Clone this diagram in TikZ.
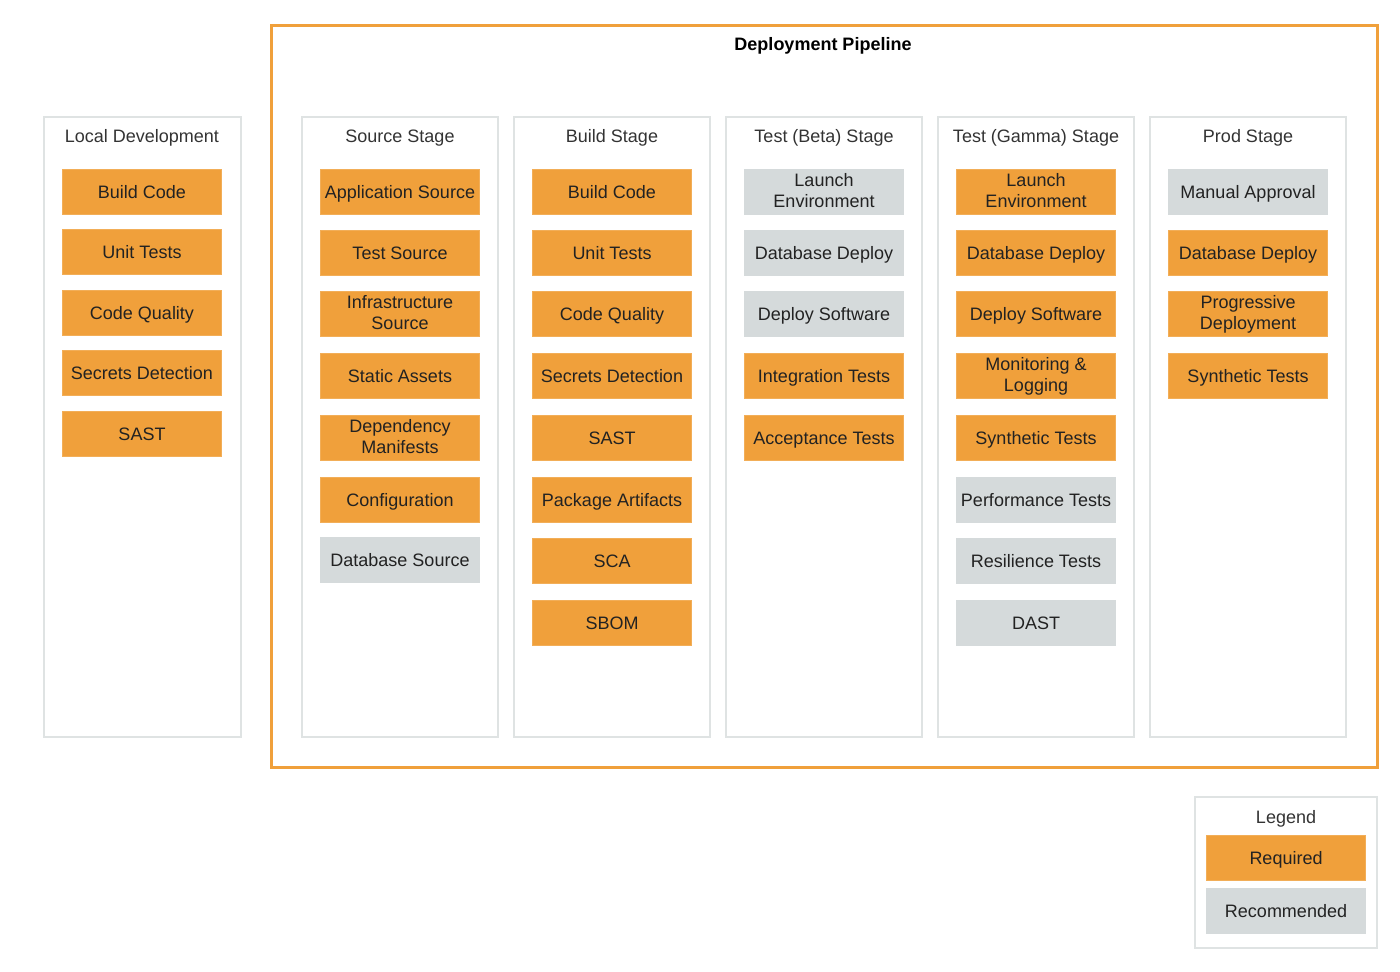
\documentclass[tikz,border=0pt]{standalone}
\usepackage{fontspec}
\setmainfont{Liberation Sans}
\usepackage{xcolor}
\usepackage{tikz}
\definecolor{reqorange}{HTML}{F0A03B}
\definecolor{recgray}{HTML}{D5DADB}
\definecolor{colline}{HTML}{DFE3E3}
\definecolor{boxtext}{HTML}{222222}
\newcommand{\boxstrut}{\rule[-2pt]{0pt}{10.4pt}}

\begin{document}
\begin{tikzpicture}[x=0.5pt, y=-0.5pt,
		req/.style={fill=reqorange, draw=reqorange!85!white, line width=0.4pt, minimum width=79.5pt, minimum height=22.5pt, inner sep=0pt, align=center, text=boxtext, font=\fontsize{9}{10.5}\selectfont, execute at begin node=\boxstrut, execute at end node=\boxstrut},
		rec/.style={req, fill=recgray, draw=recgray},
		stagebox/.style={draw=colline, line width=0.8pt},
		stagetitle/.style={anchor=base, text=black!80, font=\fontsize{9}{10.5}\selectfont}]
				\useasboundingbox (0,0) rectangle (1400,971);
				
				% pipeline frame
				\draw [reqorange, line width=1.5pt] (271,25) rectangle (1377,767);
				\node [anchor=base, font=\bfseries\fontsize{9}{10.5}\selectfont] (pipe) at (823,50) {Deployment Pipeline};
				
				% stage columns
				\draw [stagebox] (44,117) rectangle (241,737);
				\draw [stagebox] (302,117) rectangle (498,737);
				\draw [stagebox] (514,117) rectangle (710,737);
				\draw [stagebox] (726,117) rectangle (922,737);
				\draw [stagebox] (938,117) rectangle (1134,737);
				\draw [stagebox] (1150,117) rectangle (1346,737);
				
				\node [stagetitle] (local) at (142,142) {Local Development};
				\node [stagetitle] (source) at (400,142) {Source Stage};
				\node [stagetitle] (build) at (612,142) {Build Stage};
				\node [stagetitle] (beta) at (824,142) {Test (Beta) Stage};
				\node [stagetitle] (gamma) at (1036,142) {Test (Gamma) Stage};
				\node [stagetitle] (prod) at (1248,142) {Prod Stage};
				
				% local development
				\node [req] (l1) at (142,192) {Build Code};
				\node [req] (l2) at (142,252) {Unit Tests};
				\node [req] (l3) at (142,313) {Code Quality};
				\node [req] (l4) at (142,373) {Secrets Detection};
				\node [req] (l5) at (142,434) {SAST};
				
				% source stage
				\node [req] (s1) at (400,192) {Application Source};
				\node [req] (s2) at (400,253) {Test Source};
				\node [req] (s3) at (400,314) {Infrastructure\\Source};
				\node [req] (s4) at (400,376) {Static Assets};
				\node [req] (s5) at (400,438) {Dependency\\Manifests};
				\node [req] (s6) at (400,500) {Configuration};
				\node [rec] (s7) at (400,560) {Database Source};
				
				% build stage
				\node [req] (b1) at (612,192) {Build Code};
				\node [req] (b2) at (612,253) {Unit Tests};
				\node [req] (b3) at (612,314) {Code Quality};
				\node [req] (b4) at (612,376) {Secrets Detection};
				\node [req] (b5) at (612,438) {SAST};
				\node [req] (b6) at (612,500) {Package Artifacts};
				\node [req] (b7) at (612,561) {SCA};
				\node [req] (b8) at (612,623) {SBOM};
				
				% test (beta) stage
				\node [rec] (t1) at (824,192) {Launch\\Environment};
				\node [rec] (t2) at (824,253) {Database Deploy};
				\node [rec] (t3) at (824,314) {Deploy Software};
				\node [req] (t4) at (824,376) {Integration Tests};
				\node [req] (t5) at (824,438) {Acceptance Tests};
				
				% test (gamma) stage
				\node [req] (g1) at (1036,192) {Launch\\Environment};
				\node [req] (g2) at (1036,253) {Database Deploy};
				\node [req] (g3) at (1036,314) {Deploy Software};
				\node [req] (g4) at (1036,376) {Monitoring \&\\Logging};
				\node [req] (g5) at (1036,438) {Synthetic Tests};
				\node [rec] (g6) at (1036,500) {Performance Tests};
				\node [rec] (g7) at (1036,561) {Resilience Tests};
				\node [rec] (g8) at (1036,623) {DAST};
				
				% prod stage
				\node [rec] (p1) at (1248,192) {Manual Approval};
				\node [req] (p2) at (1248,253) {Database Deploy};
				\node [req] (p3) at (1248,314) {Progressive\\Deployment};
				\node [req] (p4) at (1248,376) {Synthetic Tests};
				
				% legend
				\draw [stagebox] (1195,797) rectangle (1377,948);
				\node [stagetitle] (legend) at (1286,823) {Legend};
				\node [req] (required) at (1286,858) {Required};
				\node [rec] (recommended) at (1286,911) {Recommended};
\end{tikzpicture}
\end{document}
